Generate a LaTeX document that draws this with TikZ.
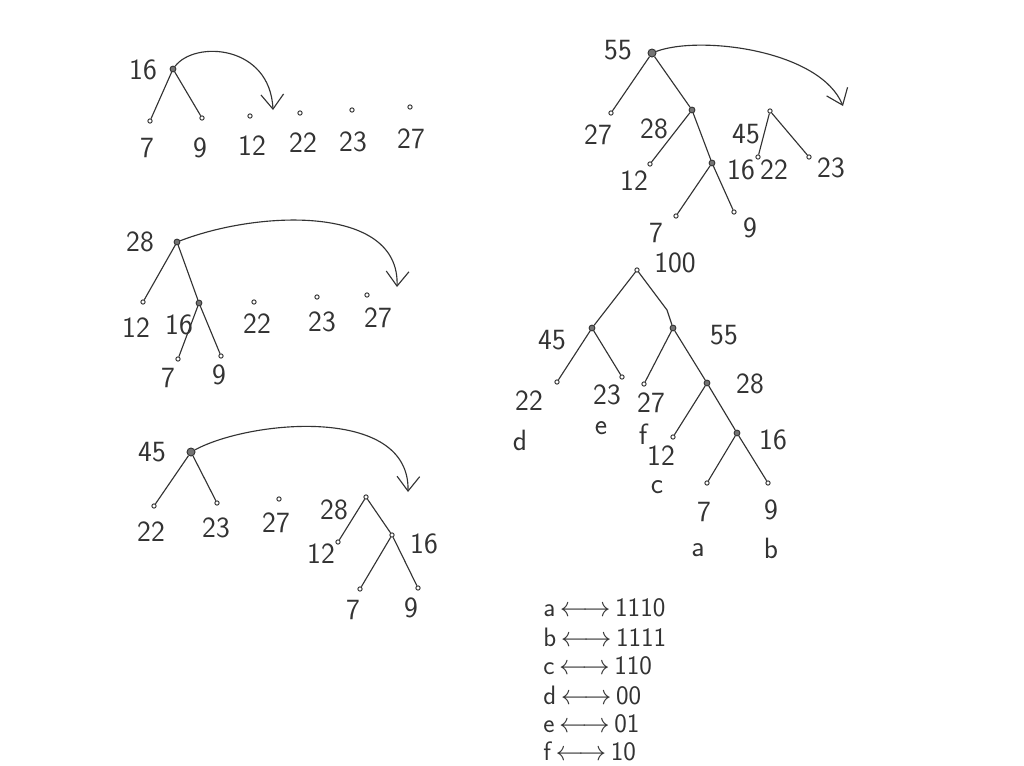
\documentclass[tikz,border=0pt]{standalone}
\usepackage{fontspec}
\usetikzlibrary{arrows.meta}
\begin{document}
\begin{tikzpicture}[x=0.75pt,y=-0.75pt,
  ink/.style={draw=black!80, line width=0.85pt},
  leaf/.style={circle, draw=black!80, fill=white, line width=0.7pt, inner sep=0pt, minimum size=3.2pt},
  inner/.style={circle, draw=black!80, fill=black!55, line width=0.7pt, inner sep=0pt, minimum size=4.4pt},
  lbl/.style={text=black!80, font=\sffamily\fontsize{22}{24}\selectfont, inner sep=0pt},
  code/.style={text=black!80, font=\sffamily\fontsize{20}{22}\selectfont, inner sep=0pt, anchor=west},
  jump/.style={ink, -{Straight Barb[length=11pt,width=17pt,line width=0.85pt]}}
]
\useasboundingbox (0,0) rectangle (1024,765);

% ---------- Panel 1 ----------
\node[inner] (a16) at (173,69) {};
\node[leaf] (a7) at (150,121) {};
\node[leaf] (a9) at (202,118) {};
\node[leaf] (a12) at (250,116) {};
\node[leaf] (a22) at (300,113) {};
\node[leaf] (a23) at (352,110) {};
\node[leaf] (a27) at (410,107) {};
\coordinate (atip) at (273,110);
\node[lbl] (la16) at (143,70) {16};
\node[lbl] (la7) at (147,148) {7};
\node[lbl] (la9) at (200,148) {9};
\node[lbl] (la12) at (252,146) {12};
\node[lbl] (la22) at (303,143) {22};
\node[lbl] (la23) at (353,142) {23};
\node[lbl] (la27) at (411,139) {27};
\draw[ink] (a16) -- (a7);
\draw[ink] (a16) -- (a9);
\draw[jump] (a16) .. controls (195,40) and (270,45) .. (atip);

% ---------- Panel 2 ----------
\node[inner] (b28) at (177,242) {};
\node[leaf] (b12) at (143,302) {};
\node[inner] (b16) at (199,303) {};
\node[leaf] (b7) at (178,359) {};
\node[leaf] (b9) at (221,356) {};
\node[leaf] (b22) at (254,302) {};
\node[leaf] (b23) at (317,297) {};
\node[leaf] (b27) at (367,295) {};
\coordinate (btip) at (397,287);
\node[lbl] (lb28) at (140,242) {28};
\node[lbl] (lb12) at (136,328) {12};
\node[lbl] (lb16) at (179,325) {16};
\node[lbl] (lb7) at (168,378) {7};
\node[lbl] (lb9) at (219,375) {9};
\node[lbl] (lb22) at (257,324) {22};
\node[lbl] (lb23) at (322,322) {23};
\node[lbl] (lb27) at (378,318) {27};
\draw[ink] (b28) -- (b12);
\draw[ink] (b28) -- (b16);
\draw[ink] (b16) -- (b7);
\draw[ink] (b16) -- (b9);
\draw[jump] (b28) .. controls (260,210) and (400,205) .. (btip);

% ---------- Panel 3 ----------
\node[inner, minimum size=6pt] (c45) at (191,452) {};
\node[leaf] (c22) at (154,506) {};
\node[leaf] (c23) at (217,503) {};
\node[leaf] (c27) at (279,499) {};
\node[leaf] (c28) at (366,497) {};
\node[leaf] (c12) at (338,542) {};
\node[leaf] (c16) at (392,535) {};
\node[leaf] (c7) at (360,589) {};
\node[leaf] (c9) at (418,588) {};
\coordinate (ctip) at (408,492);
\node[lbl] (lc45) at (152,452) {45};
\node[lbl] (lc22) at (151,532) {22};
\node[lbl] (lc23) at (216,528) {23};
\node[lbl] (lc27) at (276,523) {27};
\node[lbl] (lc28) at (334,510) {28};
\node[lbl] (lc12) at (321,554) {12};
\node[lbl] (lc16) at (424,544) {16};
\node[lbl] (lc7) at (353,610) {7};
\node[lbl] (lc9) at (411,608) {9};
\draw[ink] (c45) -- (c22);
\draw[ink] (c45) -- (c23);
\draw[ink] (c28) -- (c12);
\draw[ink] (c28) -- (c16);
\draw[ink] (c16) -- (c7);
\draw[ink] (c16) -- (c9);
\draw[jump] (c45) .. controls (250,420) and (410,405) .. (ctip);

% ---------- Panel 4 ----------
\node[inner, minimum size=6pt] (d55) at (652,53) {};
\node[leaf] (d27) at (611,113) {};
\node[inner] (d28) at (692,110) {};
\node[leaf] (d12) at (650,164) {};
\node[inner] (d16) at (712,163) {};
\node[leaf] (d7) at (676,216) {};
\node[leaf] (d9) at (734,212) {};
\node[leaf] (d45) at (770,111) {};
\node[leaf] (d22) at (758,157) {};
\node[leaf] (d23) at (809,157) {};
\coordinate (dtip) at (843,106);
\node[lbl] (ld55) at (618,50) {55};
\node[lbl] (ld27) at (598,135) {27};
\node[lbl] (ld28) at (654,129) {28};
\node[lbl] (ld12) at (634,181) {12};
\node[lbl] (ld16) at (741,170) {16};
\node[lbl] (ld7) at (656,233) {7};
\node[lbl] (ld9) at (750,228) {9};
\node[lbl] (ld45) at (746,134) {45};
\node[lbl] (ld22) at (774,170) {22};
\node[lbl] (ld23) at (831,168) {23};
\draw[ink] (d55) -- (d27);
\draw[ink] (d55) -- (d28);
\draw[ink] (d28) -- (d12);
\draw[ink] (d28) -- (d16);
\draw[ink] (d16) -- (d7);
\draw[ink] (d16) -- (d9);
\draw[ink] (d45) -- (d22);
\draw[ink] (d45) -- (d23);
\draw[jump] (d55) .. controls (700,35) and (820,50) .. (dtip);

% ---------- Panel 5: final tree ----------
\node[leaf] (e100) at (637,270) {};
\node[inner] (e45) at (592,328) {};
\node[inner] (e55) at (673,328) {};
\node[leaf] (e22) at (557,382) {};
\node[leaf] (e23) at (622,377) {};
\node[leaf] (e27) at (644,384) {};
\node[inner] (e28) at (707,383) {};
\node[leaf] (e12) at (673,437) {};
\node[inner] (e16) at (737,433) {};
\node[leaf] (e7) at (707,483) {};
\node[leaf] (e9) at (768,483) {};
\coordinate (ebend) at (667,310);
\node[lbl] (le100) at (675,263) {100};
\node[lbl] (le45) at (552,340) {45};
\node[lbl] (le55) at (724,335) {55};
\node[lbl] (le22) at (529,401) {22};
\node[lbl] (le23) at (607,395) {23};
\node[lbl] (le27) at (651,403) {27};
\node[lbl] (le28) at (750,384) {28};
\node[lbl] (le12) at (661,456) {12};
\node[lbl] (le16) at (773,440) {16};
\node[lbl] (le7) at (704,512) {7};
\node[lbl] (le9) at (771,510) {9};
\node[lbl] (ld) at (520,440) {d};
\node[lbl] (le) at (601,428) {e};
\node[lbl] (lf) at (643,434) {f};
\node[lbl] (lc) at (657,487) {c};
\node[lbl] (la) at (698,550) {a};
\node[lbl] (lb) at (771,548) {b};
\draw[ink] (e100) -- (e45);
\draw[ink] (e100) -- (ebend) -- (e55);
\draw[ink] (e45) -- (e22);
\draw[ink] (e45) -- (e23);
\draw[ink] (e55) -- (e27);
\draw[ink] (e55) -- (e28);
\draw[ink] (e28) -- (e12);
\draw[ink] (e28) -- (e16);
\draw[ink] (e16) -- (e7);
\draw[ink] (e16) -- (e9);

% ---------- Code table ----------
\node[code] (ca) at (543,608) {a$\,\longleftrightarrow\,$1110};
\node[code] (cb) at (543,637) {b$\,\longleftrightarrow\,$1111};
\node[code] (cc) at (543,666) {c$\,\longleftrightarrow\,$110};
\node[code] (cd) at (543,695) {d$\,\longleftrightarrow\,$00};
\node[code] (ce) at (543,724) {e$\,\longleftrightarrow\,$01};
\node[code] (cf) at (543,751) {f$\,\longleftrightarrow\,$10};
\end{tikzpicture}
\end{document}
